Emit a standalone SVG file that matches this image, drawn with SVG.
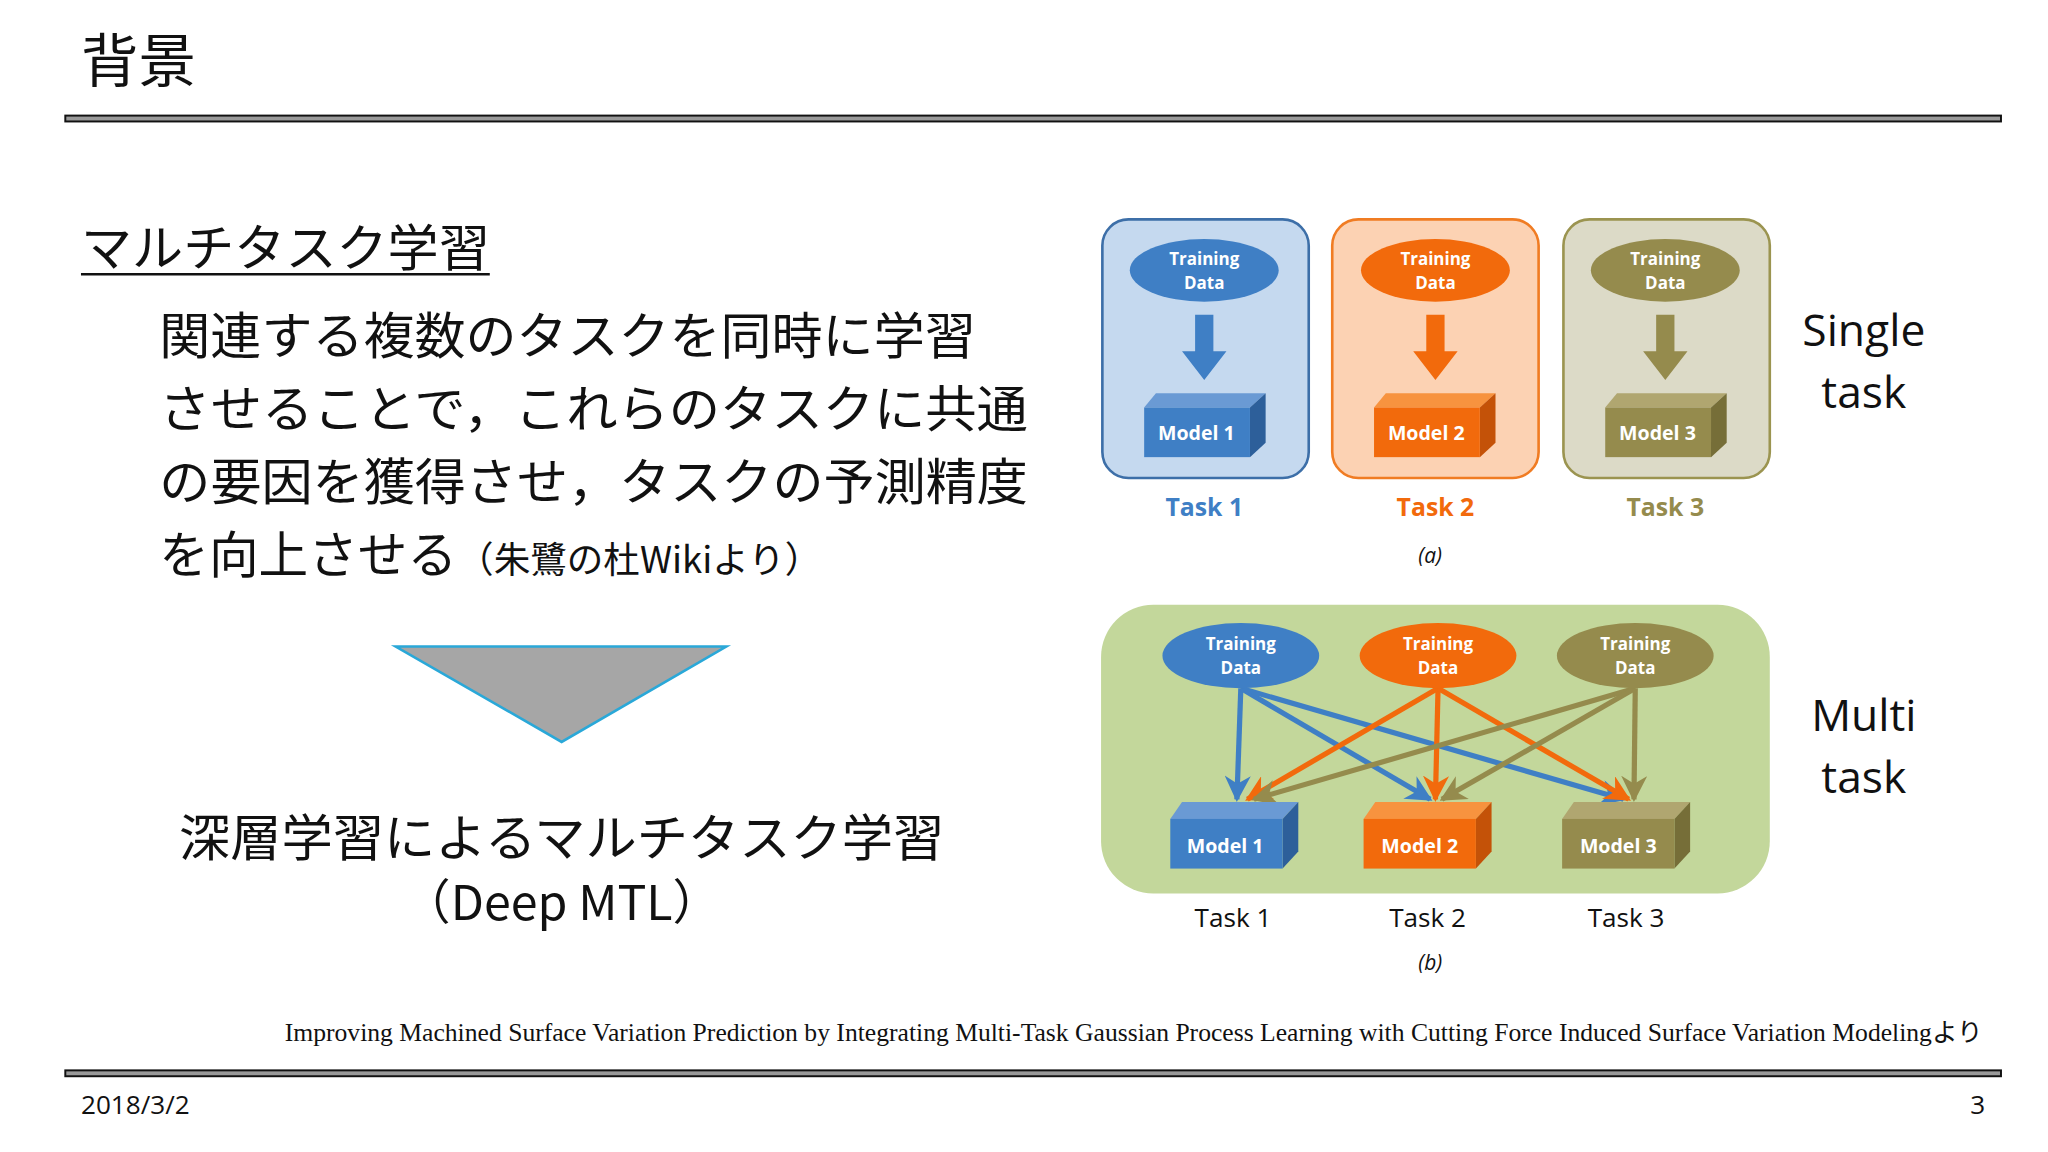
<svg xmlns="http://www.w3.org/2000/svg" width="2048" height="1152" viewBox="0 0 2048 1152">
<defs>
<style>
.jp{font-family:"Noto Sans CJK JP","Noto Sans",sans-serif;fill:#111}
.s{font-family:"Open Sans","Noto Sans",sans-serif}
.td{font-family:"Open Sans",sans-serif;font-size:13px;font-weight:bold;fill:#fff;text-anchor:middle}
.md{font-family:"Open Sans",sans-serif;font-size:15px;font-weight:bold;fill:#fff;text-anchor:middle}
</style>
<marker id="ab" viewBox="0 0 10 10" refX="9" refY="5" markerWidth="5" markerHeight="5" orient="auto"><path d="M0,0 L10,5 L0,10 L3,5 z" fill="#3f7fc5"/></marker>
<marker id="ao" viewBox="0 0 10 10" refX="9" refY="5" markerWidth="5" markerHeight="5" orient="auto"><path d="M0,0 L10,5 L0,10 L3,5 z" fill="#f26a0c"/></marker>
<marker id="ag" viewBox="0 0 10 10" refX="9" refY="5" markerWidth="5" markerHeight="5" orient="auto"><path d="M0,0 L10,5 L0,10 L3,5 z" fill="#958b4d"/></marker>
</defs>
<rect width="2048" height="1152" fill="#fff"/>
<g transform="scale(1.30612)">
<g id="header">
<text x="62" y="63" class="jp" font-size="44">背景</text>
<rect x="50" y="88.5" width="1482" height="4.5" fill="#999" stroke="#111" stroke-width="1.5"/>
</g>
<g id="text-left">
<text x="62" y="204" class="jp" font-size="38" textLength="313" lengthAdjust="spacingAndGlyphs">マルチタスク学習</text>
<line x1="62" y1="210" x2="375" y2="210" stroke="#111" stroke-width="2"/>
<text x="122" y="271" class="jp" font-size="38" textLength="625" lengthAdjust="spacingAndGlyphs">関連する複数のタスクを同時に学習</text>
<text x="122" y="327" class="jp" font-size="38" textLength="665" lengthAdjust="spacingAndGlyphs">させることで，これらのタスクに共通</text>
<text x="122" y="383" class="jp" font-size="38" textLength="665" lengthAdjust="spacingAndGlyphs">の要因を獲得させ，タスクの予測精度</text>
<text x="122" y="439" class="jp" font-size="38">を向上させる<tspan font-size="28">（朱鷺の杜Wikiより）</tspan></text>
<polygon points="303,495 556,495 430,568" fill="#a6a6a6" stroke="#2aa8d8" stroke-width="2"/>
<text x="430" y="655" class="jp" font-size="38" text-anchor="middle" textLength="586" lengthAdjust="spacingAndGlyphs">深層学習によるマルチタスク学習</text>
<text x="430" y="704" class="jp" font-size="37" text-anchor="middle">（Deep MTL）</text>
</g>
<g id="single">
<rect x="844" y="168" width="158" height="198" rx="20" fill="#c5d9ef" stroke="#3d6fa8" stroke-width="2"/>
<rect x="1020" y="168" width="158" height="198" rx="20" fill="#fcd2b3" stroke="#f07c23" stroke-width="2"/>
<rect x="1197" y="168" width="158" height="198" rx="20" fill="#dcdac7" stroke="#9b9450" stroke-width="2"/>
<ellipse cx="922" cy="207" rx="57" ry="24" fill="#3f7fc5"/>
<ellipse cx="1099" cy="207" rx="57" ry="24" fill="#f26a0c"/>
<ellipse cx="1275" cy="207" rx="57" ry="24" fill="#958b4d"/>
<text x="922" y="203" class="td">Training</text><text x="922" y="221" class="td">Data</text>
<text x="1099" y="203" class="td">Training</text><text x="1099" y="221" class="td">Data</text>
<text x="1275" y="203" class="td">Training</text><text x="1275" y="221" class="td">Data</text>
<path d="M915,241 h14 v28 h10 l-17,22 l-17,-22 h10 z" fill="#3f7fc5"/>
<path d="M1092,241 h14 v28 h10 l-17,22 l-17,-22 h10 z" fill="#f26a0c"/>
<path d="M1268,241 h14 v28 h10 l-17,22 l-17,-22 h10 z" fill="#958b4d"/>
<g><path d="M876,312 l9,-11 h84 l-12,11 z" fill="#6a9ad4"/><path d="M957,312 l12,-11 v38 l-12,11 z" fill="#2d5f9a"/><rect x="876" y="312" width="81" height="38" fill="#3f7fc5"/><text x="916" y="337" class="md">Model 1</text></g>
<g><path d="M1052,312 l9,-11 h84 l-12,11 z" fill="#f7933f"/><path d="M1133,312 l12,-11 v38 l-12,11 z" fill="#c45208"/><rect x="1052" y="312" width="81" height="38" fill="#f26a0c"/><text x="1092" y="337" class="md">Model 2</text></g>
<g><path d="M1229,312 l9,-11 h84 l-12,11 z" fill="#b0a670"/><path d="M1310,312 l12,-11 v38 l-12,11 z" fill="#766e38"/><rect x="1229" y="312" width="81" height="38" fill="#958b4d"/><text x="1269" y="337" class="md">Model 3</text></g>
<text x="922" y="395" class="s" font-size="19" font-weight="bold" fill="#3f7fc5" text-anchor="middle">Task 1</text>
<text x="1099" y="395" class="s" font-size="19" font-weight="bold" fill="#f26a0c" text-anchor="middle">Task 2</text>
<text x="1275" y="395" class="s" font-size="19" font-weight="bold" fill="#958b4d" text-anchor="middle">Task 3</text>
<text x="1095" y="431" class="s" font-size="16" font-style="italic" fill="#111" text-anchor="middle">(a)</text>
<text x="1427" y="265" class="s" font-size="34" fill="#111" text-anchor="middle">Single</text>
<text x="1427" y="312" class="s" font-size="34" fill="#111" text-anchor="middle">task</text>
</g>
<g id="multi">
<rect x="843" y="463" width="512" height="221" rx="40" fill="#c3d79b"/>
<g id="connectors" stroke-width="4" fill="none">
<line x1="950" y1="527" x2="947" y2="612" stroke="#3f7fc5" marker-end="url(#ab)"/>
<line x1="950" y1="527" x2="1095" y2="612" stroke="#3f7fc5" marker-end="url(#ab)"/>
<line x1="950" y1="527" x2="1243" y2="612" stroke="#3f7fc5" marker-end="url(#ab)"/>
<line x1="1101" y1="527" x2="955" y2="612" stroke="#f26a0c" marker-end="url(#ao)"/>
<line x1="1101" y1="527" x2="1099" y2="612" stroke="#f26a0c" marker-end="url(#ao)"/>
<line x1="1101" y1="527" x2="1247" y2="612" stroke="#f26a0c" marker-end="url(#ao)"/>
<line x1="1252" y1="527" x2="960" y2="612" stroke="#958b4d" marker-end="url(#ag)"/>
<line x1="1252" y1="527" x2="1104" y2="612" stroke="#958b4d" marker-end="url(#ag)"/>
<line x1="1252" y1="527" x2="1251" y2="612" stroke="#958b4d" marker-end="url(#ag)"/>
</g>
<ellipse cx="950" cy="502" rx="60" ry="25" fill="#3f7fc5"/>
<ellipse cx="1101" cy="502" rx="60" ry="25" fill="#f26a0c"/>
<ellipse cx="1252" cy="502" rx="60" ry="25" fill="#958b4d"/>
<text x="950" y="498" class="td">Training</text><text x="950" y="516" class="td">Data</text>
<text x="1101" y="498" class="td">Training</text><text x="1101" y="516" class="td">Data</text>
<text x="1252" y="498" class="td">Training</text><text x="1252" y="516" class="td">Data</text>
<g><path d="M896,627 l9,-13 h89 l-12,13 z" fill="#6a9ad4"/><path d="M982,627 l12,-13 v38 l-12,13 z" fill="#2d5f9a"/><rect x="896" y="627" width="86" height="38" fill="#3f7fc5"/><text x="938" y="653" class="md">Model 1</text></g>
<g><path d="M1044,627 l9,-13 h89 l-12,13 z" fill="#f7933f"/><path d="M1130,627 l12,-13 v38 l-12,13 z" fill="#c45208"/><rect x="1044" y="627" width="86" height="38" fill="#f26a0c"/><text x="1087" y="653" class="md">Model 2</text></g>
<g><path d="M1196,627 l9,-13 h89 l-12,13 z" fill="#b0a670"/><path d="M1282,627 l12,-13 v38 l-12,13 z" fill="#766e38"/><rect x="1196" y="627" width="86" height="38" fill="#958b4d"/><text x="1239" y="653" class="md">Model 3</text></g>
<text x="944" y="710" class="s" font-size="20" fill="#111" text-anchor="middle">Task 1</text>
<text x="1093" y="710" class="s" font-size="20" fill="#111" text-anchor="middle">Task 2</text>
<text x="1245" y="710" class="s" font-size="20" fill="#111" text-anchor="middle">Task 3</text>
<text x="1095" y="743" class="s" font-size="16" font-style="italic" fill="#111" text-anchor="middle">(b)</text>
<text x="1427" y="560" class="s" font-size="34" fill="#111" text-anchor="middle">Multi</text>
<text x="1427" y="607" class="s" font-size="34" fill="#111" text-anchor="middle">task</text>
</g>
<g id="footer">
<text x="218" y="797" font-family="'Liberation Serif','Noto Sans CJK JP',serif" font-size="19" fill="#111" textLength="1300" lengthAdjust="spacingAndGlyphs">Improving Machined Surface Variation Prediction by Integrating Multi-Task Gaussian Process Learning with Cutting Force Induced Surface Variation Modelingより</text>
<rect x="50" y="819.5" width="1482" height="4.5" fill="#999" stroke="#111" stroke-width="1.5"/>
<text x="62" y="853" class="s" font-size="20" fill="#111">2018/3/2</text>
<text x="1520" y="853" class="s" font-size="20" fill="#111" text-anchor="end">3</text>
</g>
</g>
</svg>
